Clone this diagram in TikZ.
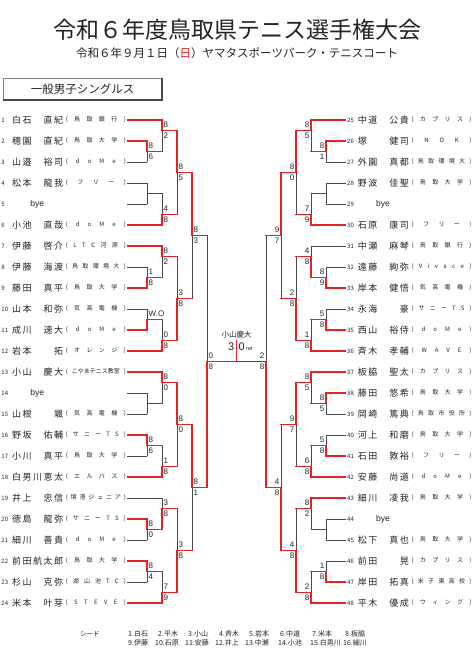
\documentclass[tikz,border=0pt]{standalone}
\usepackage{fontspec}
\setmainfont{Liberation Sans}
\newfontfamily\jp{Noto Sans CJK JP}
\usetikzlibrary{positioning}

\definecolor{lred}{RGB}{229,32,38}
\definecolor{lgray}{RGB}{72,72,72}
\definecolor{ink}{RGB}{35,35,35}

% five fixed slots for a name
\newcommand{\slots}[5]{\makebox[10.5pt]{#1}\makebox[10.5pt]{#2}\makebox[10.5pt]{#3}\makebox[10.5pt]{#4}\makebox[10.5pt]{#5}}
% left and right player rows
\newcommand{\lplayer}[7]{%
  \node[club, left=0pt of e#1] (c#1) {\makebox[60pt][s]{#7}};
  \node[pname, left=0pt of c#1] (p#1) {\slots{#2}{#3}{#4}{#5}{#6}};
  \node[num, left=0pt of p#1] (n#1) {#1};
}
\newcommand{\rplayer}[7]{%
  \node[num, right=0pt of e#1] (n#1) {#1};
  \node[pname, right=0pt of n#1] (p#1) {\slots{#2}{#3}{#4}{#5}{#6}};
  \node[club, right=0pt of p#1] (c#1) {\makebox[60pt][s]{#7}};
}
\newcommand{\lbye}[1]{%
  \node[club, left=0pt of e#1] (c#1) {\makebox[60pt]{}};
  \node[pname, left=0pt of c#1] (p#1) {\makebox[52.5pt][l]{\hspace{19pt}\rmfamily\fontsize{8.5}{9}\selectfont bye}};
  \node[num, left=0pt of p#1] (n#1) {#1};
}
\newcommand{\rbye}[1]{%
  \node[num, right=0pt of e#1] (n#1) {#1};
  \node[pname, right=0pt of n#1] (p#1) {\makebox[52.5pt][l]{\hspace{19pt}\rmfamily\fontsize{8.5}{9}\selectfont bye}};
}

\begin{document}
\begin{tikzpicture}[x=1pt, y=-1pt,
  wire/.style={draw=lgray, line width=0.8pt, line cap=rect},
  win/.style={draw=lred, line width=1.2pt, line cap=rect},
  num/.style={inner xsep=1.5pt, inner ysep=0pt, text width=8pt, font=\jp\fontsize{6}{6}\selectfont, text=ink},
  pname/.style={inner sep=0pt, font=\jp\fontsize{9}{10}\selectfont, text=ink},
  club/.style={inner xsep=1.5pt, inner ysep=0pt, font=\jp\fontsize{6}{6}\selectfont, text=ink},
  lsc/.style={anchor=west, xshift=1.5pt, inner sep=0pt, font=\fontsize{8}{8}\selectfont, text=ink},
  rsc/.style={anchor=east, xshift=-1.5pt, inner sep=0pt, font=\fontsize{8}{8}\selectfont, text=ink},
  seed/.style={anchor=west, inner sep=0pt, font=\jp\fontsize{7}{7}\selectfont, text=ink}]

\useasboundingbox[fill=white] (0,0) rectangle (474,660);

\node[text=ink, font=\jp\fontsize{23}{23}\selectfont] (title) at (237,30) {令和６年度鳥取県テニス選手権大会};
\node[text=ink, font=\jp\fontsize{11.5}{12}\selectfont] (date) at (237,53) {令和６年９月１日（\textcolor{lred}{日}）ヤマタスポーツパーク・テニスコート};
\node[draw=lgray!70, line width=1pt, minimum width=158pt, minimum height=21pt, inner sep=0pt, text=ink, font=\jp\fontsize{11.5}{12}\selectfont] (event) at (82.5,89) {一般男子シングルス};
\draw[lgray, line width=1.6pt] (event.north east) -- (event.south east) -- (event.south west);

% line ends of the players
\foreach \i in {1,...,24} \coordinate (e\i) at (127.5,{120+21*(\i-1)});
\foreach \i in {25,...,48} \coordinate (e\i) at (345.5,{120+21*(\i-25)});

\lplayer{1}{白}{石}{}{直}{紀}{( 鳥 取 銀 行 )}
\lplayer{2}{穂}{園}{}{直}{紀}{( 鳥 取 大 学 )}
\lplayer{3}{山}{邉}{}{裕}{司}{( d o M e )}
\lplayer{4}{松}{本}{}{龍}{我}{( フ リ ー )}
\lbye{5}
\lplayer{6}{小}{池}{}{直}{哉}{( d o M e )}
\lplayer{7}{伊}{藤}{}{啓}{介}{( L T C 河 原 )}
\lplayer{8}{伊}{藤}{}{海}{渡}{( 鳥 取 環 境 大 )}
\lplayer{9}{藤}{田}{}{真}{平}{( 鳥 取 大 学 )}
\lplayer{10}{山}{本}{}{和}{弥}{( 気 高 電 機 )}
\lplayer{11}{成}{川}{}{速}{大}{( d o M e )}
\lplayer{12}{岩}{本}{}{}{拓}{( オ レ ン ジ )}
\lplayer{13}{小}{山}{}{慶}{大}{( こやまテニス教室 )}
\lbye{14}
\lplayer{15}{山}{根}{}{}{颯}{( 気 高 電 機 )}
\lplayer{16}{野}{坂}{}{佑}{輔}{( サ ニ ー T S )}
\lplayer{17}{小}{川}{}{真}{平}{( 鳥 取 大 学 )}
\lplayer{18}{白}{男}{川}{恵}{太}{( エ ル バ ス )}
\lplayer{19}{井}{上}{}{忠}{信}{( 境 港 ジ ュ ニ ア )}
\lplayer{20}{徳}{島}{}{龍}{弥}{( サ ニ ー T S )}
\lplayer{21}{細}{川}{}{善}{貴}{( d o M e )}
\lplayer{22}{前}{田}{航}{太}{郎}{( 鳥 取 大 学 )}
\lplayer{23}{杉}{山}{}{克}{弥}{( 湖 山 池 T C )}
\lplayer{24}{米}{本}{}{叶}{芽}{( S T E V E )}

\rplayer{25}{中}{道}{}{公}{貴}{( カ プ リ ス )}
\rplayer{26}{塚}{}{}{健}{司}{( N O K )}
\rplayer{27}{外}{園}{}{真}{都}{( 鳥 取 環 境 大 )}
\rplayer{28}{野}{波}{}{佳}{聖}{( 鳥 取 大 学 )}
\rbye{29}
\rplayer{30}{石}{原}{}{康}{司}{( フ リ ー )}
\rplayer{31}{中}{瀬}{}{麻}{琴}{( 鳥 取 銀 行 )}
\rplayer{32}{遠}{藤}{}{絢}{弥}{( V i v a c e )}
\rplayer{33}{岸}{本}{}{健}{悟}{( 気 高 電 機 )}
\rplayer{34}{永}{海}{}{}{豪}{( サ ニ ー T S )}
\rplayer{35}{西}{山}{}{裕}{侍}{( d o M e )}
\rplayer{36}{斉}{木}{}{孝}{輔}{( W A V E )}
\rplayer{37}{板}{脇}{}{聖}{太}{( カ プ リ ス )}
\rplayer{38}{藤}{田}{}{悠}{希}{( 鳥 取 大 学 )}
\rplayer{39}{岡}{崎}{}{篤}{典}{( 鳥 取 市 役 所 )}
\rplayer{40}{河}{上}{}{和}{磨}{( 鳥 取 大 学 )}
\rplayer{41}{石}{田}{}{敦}{裕}{( フ リ ー )}
\rplayer{42}{安}{藤}{}{尚}{道}{( d o M e )}
\rplayer{43}{細}{川}{}{凌}{我}{( 鳥 取 大 学 )}
\rbye{44}
\rplayer{45}{松}{下}{}{真}{也}{( 鳥 取 大 学 )}
\rplayer{46}{前}{田}{}{}{晃}{( カ プ リ ス )}
\rplayer{47}{岸}{田}{}{拓}{真}{( 米 子 東 高 校 )}
\rplayer{48}{平}{木}{}{優}{成}{( ウ ィ ン グ )}

% bye brackets
\foreach \m/\tp/\bt/\x/\ou in {a45/e4/e5/147/7, a1415/e14/e15/147/27,
    a2829/e28/e29/326/7, a4445/e44/e45/326/39} {
  \coordinate (\m) at (\x,{120+10.5*\ou});
  \draw[wire] (\tp -| \m) -- (\bt -| \m);
}

% left half
\foreach \m/\tp/\bt/\x/\ou/\w/\sa/\sz in {
    a23/e2/e3/147/3/e2/8/6, a89/e8/e9/147/15/e9/1/8,
    a1011/e10/e11/147/19/e11/W.O/{ }, a1617/e16/e17/147/31/e16/8/6,
    a2021/e20/e21/147/39/e20/8/0, a2223/e22/e23/147/43/e22/8/4,
    b1/e1/a23/162/1/e1/8/2, b2/a45/e6/162/9/e6/4/8,
    b3/e7/a89/162/13/e7/8/2, b4/a1011/e12/162/21/e12/0/8,
    b5/e13/a1415/162/25/e13/8/0, b6/a1617/e18/162/33/e18/1/8,
    b7/e19/a2021/162/37/a2021/3/8, b8/a2223/e24/162/45/e24/7/9,
    c1/b1/b2/177/5/b1/8/5, c2/b3/b4/177/17/b4/3/8,
    c3/b5/b6/177/29/b5/8/0, c4/b7/b8/177/41/b8/3/8,
    d1/c1/c2/192/11/c1/8/3, d2/c3/c4/192/35/c3/8/1,
    s1/d1/d2/207/23/d2/0/8} {
  \coordinate (\m) at (\x,{120+10.5*\ou});
  \draw[wire] (\tp -| \m) -- (\bt -| \m);
  \draw[win] (\w -| \m) -- (\m);
  \node[lsc, yshift=5.5pt] (\m-top) at (\m) {\sa};
  \node[lsc, yshift=-5.5pt] (\m-bot) at (\m) {\sz};
}

% right half
\foreach \m/\tp/\bt/\x/\ou/\w/\sa/\sz in {
    a2627/e26/e27/326/3/e26/8/1, a3233/e32/e33/326/15/e33/8/9,
    a3435/e34/e35/326/19/e35/5/8, a3839/e38/e39/326/27/e38/8/5,
    a4041/e40/e41/326/31/e41/5/8, a4647/e46/e47/326/43/e47/1/8,
    b9/e25/a2627/311/1/e25/8/5, b10/a2829/e30/311/9/e30/7/9,
    b11/e31/a3233/311/13/a3233/4/8, b12/a3435/e36/311/21/e36/1/8,
    b13/e37/a3839/311/25/e37/8/5, b14/a4041/e42/311/33/e42/6/8,
    b15/e43/a4445/311/37/e43/8/2, b16/a4647/e48/311/45/e48/2/8,
    c5/b9/b10/296/5/b9/8/0, c6/b11/b12/296/17/b12/2/8,
    c7/b13/b14/296/29/b13/9/7, c8/b15/b16/296/41/b16/4/8,
    d3/c5/c6/281/11/c5/9/7, d4/c7/c8/281/35/c8/4/8,
    s2/d3/d4/266/23/d4/2/8} {
  \coordinate (\m) at (\x,{120+10.5*\ou});
  \draw[wire] (\tp -| \m) -- (\bt -| \m);
  \draw[win] (\w -| \m) -- (\m);
  \node[rsc, yshift=5.5pt] (\m-top) at (\m) {\sa};
  \node[rsc, yshift=-5.5pt] (\m-bot) at (\m) {\sz};
}

% lines into each match
\foreach \f/\m/\s in {
    e1/b1/win, e2/a23/win, e3/a23/wire, e4/a45/wire, e5/a45/wire, e6/b2/win,
    e7/b3/win, e8/a89/wire, e9/a89/win, e10/a1011/wire, e11/a1011/win, e12/b4/win,
    e13/b5/win, e14/a1415/wire, e15/a1415/wire, e16/a1617/win, e17/a1617/wire, e18/b6/win,
    e19/b7/wire, e20/a2021/win, e21/a2021/wire, e22/a2223/win, e23/a2223/wire, e24/b8/win,
    e25/b9/win, e26/a2627/win, e27/a2627/wire, e28/a2829/wire, e29/a2829/wire, e30/b10/win,
    e31/b11/wire, e32/a3233/wire, e33/a3233/win, e34/a3435/wire, e35/a3435/win, e36/b12/win,
    e37/b13/win, e38/a3839/win, e39/a3839/wire, e40/a4041/wire, e41/a4041/win, e42/b14/win,
    e43/b15/win, e44/a4445/wire, e45/a4445/wire, e46/a4647/wire, e47/a4647/win, e48/b16/win,
    a23/b1/win, a45/b2/wire, a89/b3/win, a1011/b4/win,
    a1415/b5/wire, a1617/b6/win, a2021/b7/win, a2223/b8/win,
    a2627/b9/win, a2829/b10/wire, a3233/b11/win, a3435/b12/win,
    a3839/b13/win, a4041/b14/win, a4445/b15/wire, a4647/b16/win,
    b1/c1/win, b2/c1/win, b3/c2/win, b4/c2/win, b5/c3/win, b6/c3/win, b7/c4/win, b8/c4/win,
    b9/c5/win, b10/c5/win, b11/c6/win, b12/c6/win, b13/c7/win, b14/c7/win, b15/c8/win, b16/c8/win,
    c1/d1/win, c2/d1/win, c3/d2/win, c4/d2/win, c5/d3/win, c6/d3/win, c7/d4/win, c8/d4/win,
    d1/s1/win, d2/s1/win, d3/s2/win, d4/s2/win} {
  \draw[\s] (\f) -- (\f -| \m);
}

% final
\coordinate (fin) at (236.5,361.5);
\coordinate (champ) at (236.5,341);
\draw[wire] (s2) -- (fin);
\draw[win] (s1) -- (fin);
\draw[win] (fin) -- (champ);
\node[inner sep=0pt, text=ink, font=\jp\fontsize{7.5}{8}\selectfont] (winner) at (236.5,335) {小山慶大};
\node[inner sep=0pt, text=ink, anchor=base east, font=\fontsize{11}{11}\selectfont] (setl) at (234.5,350) {3};
\node[inner sep=0pt, text=ink, anchor=base west, font=\fontsize{11}{11}\selectfont] (setr) at (238.5,350) {0};
\node[inner sep=0pt, text=ink, anchor=base west, xshift=1pt, font=\fontsize{5.5}{6}\selectfont] (ret) at (setr.base east) {ret};

% seeds
\node[seed, font=\jp\fontsize{6.5}{7}\selectfont] (seedhead) at (80,634) {シード};
\foreach \x/\y/\t [count=\k] in {128/634/1.白石, 158/634/2.平木, 188/634/3.小山, 219/634/4.斉木,
    249/634/5.岩本, 280/634/6.中道, 312/634/7.米本, 345/634/8.板脇,
    128/643/9.伊藤, 155/643/10.石原, 185/643/11.安藤, 215/643/12.井上,
    245/643/13.中瀬, 278/643/14.小池, 310/643/15.白男川, 343/643/16.細川}
  \node[seed] (seed\k) at (\x,\y) {\t};
\end{tikzpicture}
\end{document}
